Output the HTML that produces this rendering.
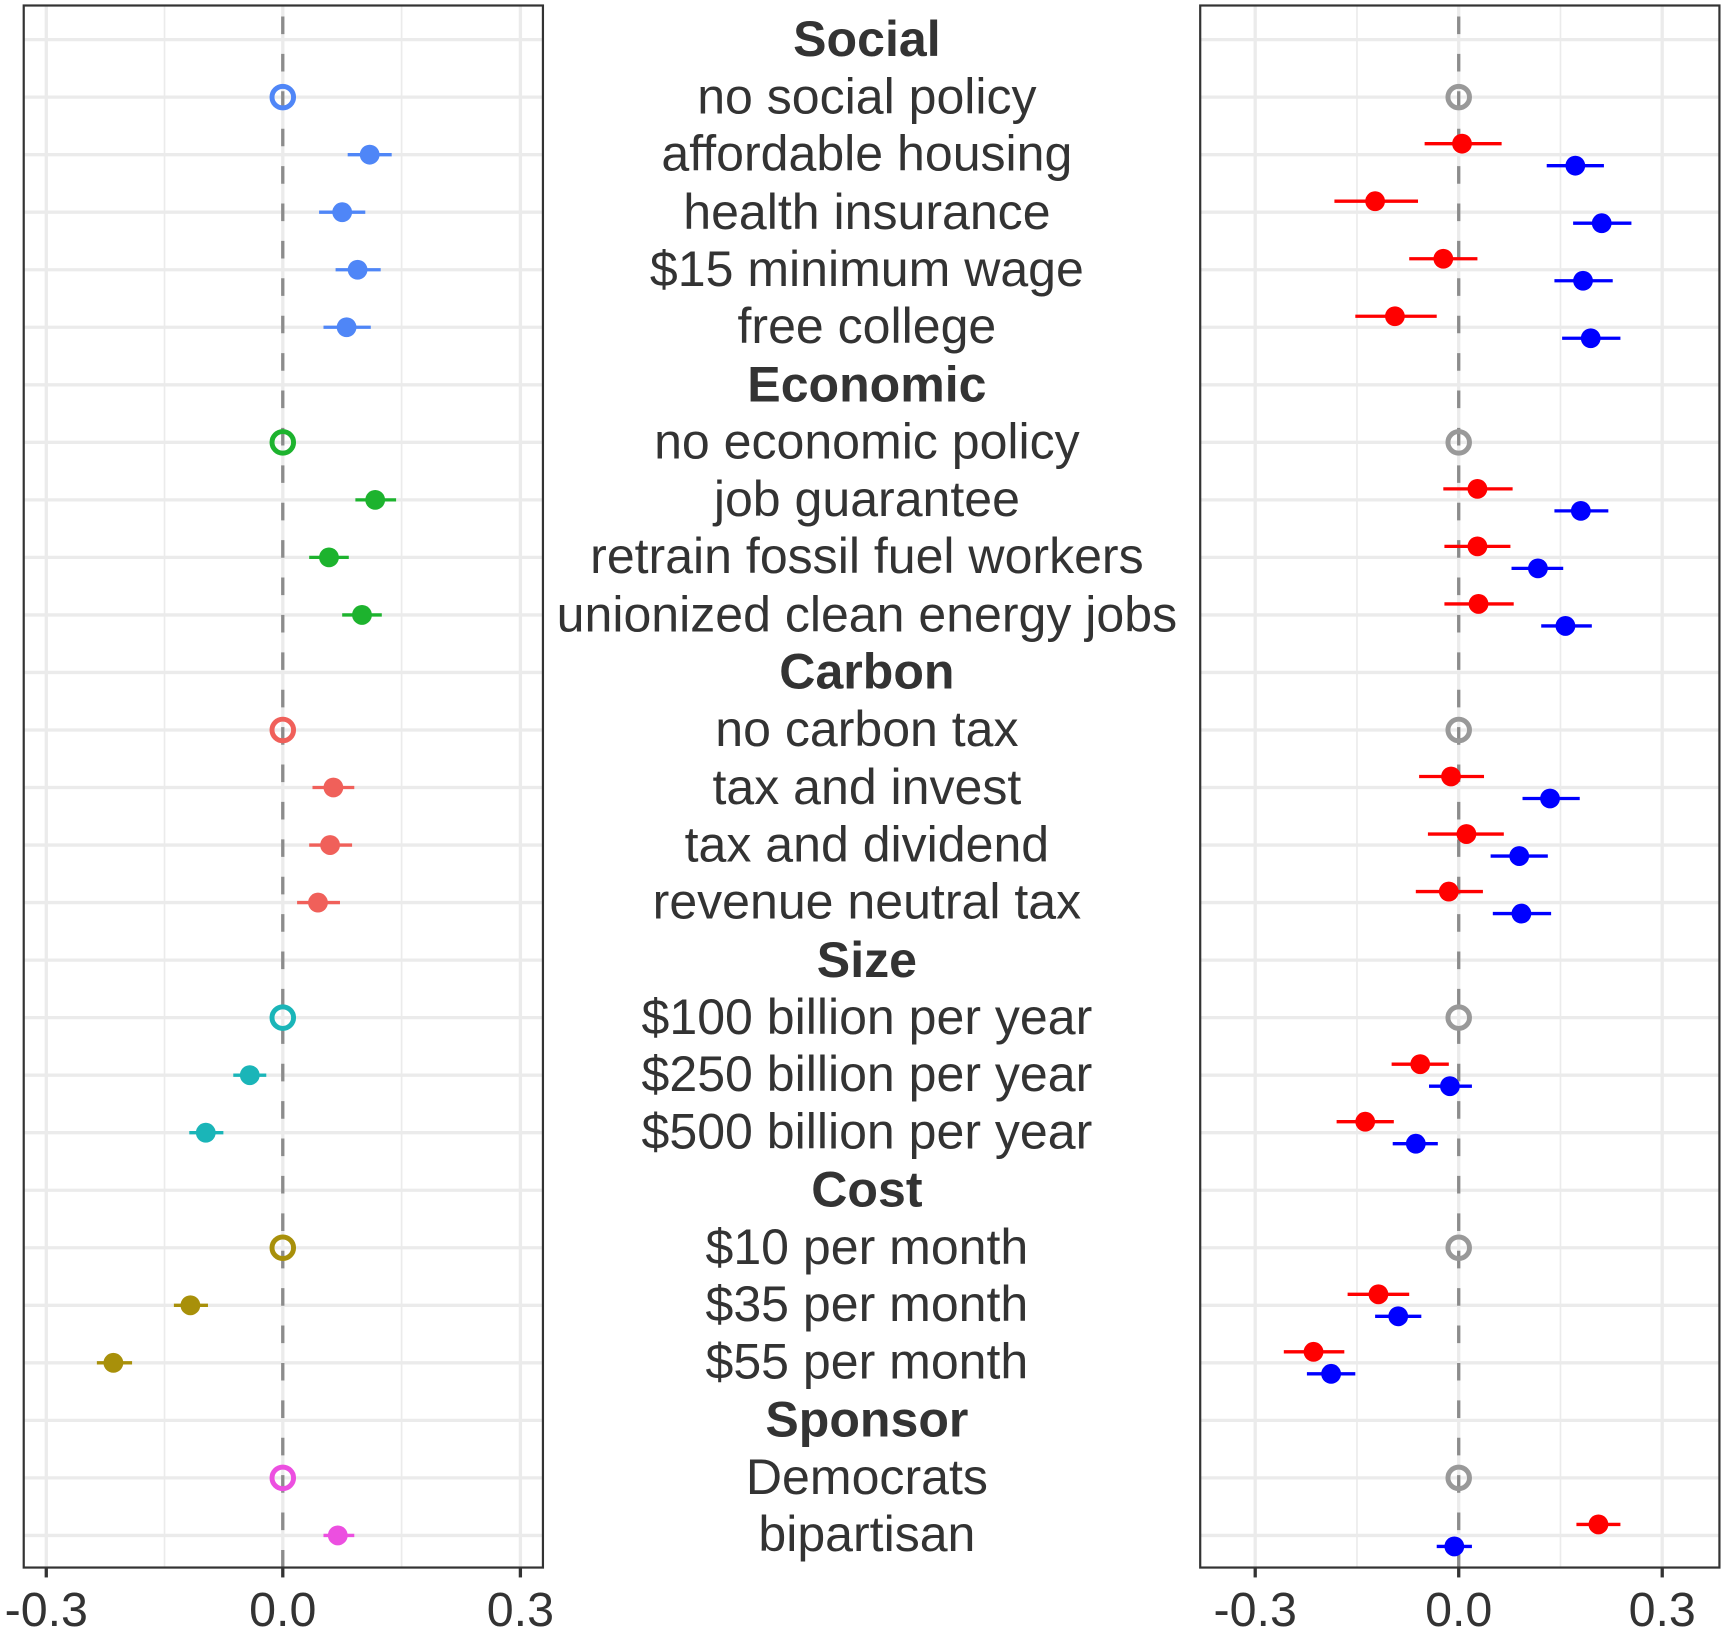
<!DOCTYPE html>
<html><head><meta charset="utf-8"><style>
html,body{margin:0;padding:0;background:#fff;}
svg{display:block;}
text{font-family:"Liberation Sans",Arial,sans-serif;fill:#333;}
</style></head><body>
<svg id="s" width="1725" height="1633" viewBox="0 0 1568 1484.5" xmlns="http://www.w3.org/2000/svg">
<rect width="1568" height="1484.5" fill="#fff"/>
<g id="g"></g>
<g text-anchor="middle" font-size="45.5">
<text x="788" y="51" font-weight="bold">Social</text>
<text x="788" y="103">no social policy</text>
<text x="788" y="155">affordable housing</text>
<text x="788" y="208">health insurance</text>
<text x="788" y="260">$15 minimum wage</text>
<text x="788" y="312">free college</text>
<text x="788" y="365" font-weight="bold">Economic</text>
<text x="788" y="417">no economic policy</text>
<text x="788" y="469">job guarantee</text>
<text x="788" y="521">retrain fossil fuel workers</text>
<text x="788" y="574">unionized clean energy jobs</text>
<text x="788" y="626" font-weight="bold">Carbon</text>
<text x="788" y="678">no carbon tax</text>
<text x="788" y="731">tax and invest</text>
<text x="788" y="783">tax and dividend</text>
<text x="788" y="835">revenue neutral tax</text>
<text x="788" y="888" font-weight="bold">Size</text>
<text x="788" y="940">$100 billion per year</text>
<text x="788" y="992">$250 billion per year</text>
<text x="788" y="1044">$500 billion per year</text>
<text x="788" y="1097" font-weight="bold">Cost</text>
<text x="788" y="1149">$10 per month</text>
<text x="788" y="1201">$35 per month</text>
<text x="788" y="1253">$55 per month</text>
<text x="788" y="1306" font-weight="bold">Sponsor</text>
<text x="788" y="1358">Democrats</text>
<text x="788" y="1410">bipartisan</text>
</g>
<g text-anchor="middle" font-size="44" fill="#4d4d4d">
<text x="42" y="1478">-0.3</text><text x="257" y="1478">0.0</text><text x="473" y="1478">0.3</text>
<text x="1141" y="1478">-0.3</text><text x="1326" y="1478">0.0</text><text x="1511" y="1478">0.3</text>
</g>
</svg>
<script>
var NS="http://www.w3.org/2000/svg",g=document.getElementById('g');
function el(t,a){var e=document.createElementNS(NS,t);for(var k in a)e.setAttribute(k,a[k]);g.appendChild(e);return e;}
function ry(i){return 36+i*52.3;}
function panel(x0,x1,z,m3,p3){
 for(var i=0;i<27;i++)el('line',{x1:x0,x2:x1,y1:ry(i),y2:ry(i),stroke:'#ebebeb','stroke-width':3});
 var mn=[(m3+z)/2,(z+p3)/2];mn.forEach(function(x){el('line',{x1:x,x2:x,y1:5,y2:1425,stroke:'#ebebeb','stroke-width':1.5});});
 [m3,z,p3].forEach(function(x){el('line',{x1:x,x2:x,y1:5,y2:1425,stroke:'#ebebeb','stroke-width':3});
  el('line',{x1:x,x2:x,y1:1425,y2:1434,stroke:'#333','stroke-width':3});});
 el('line',{x1:z,x2:z,y1:5,y2:1425,stroke:'#8c8c8c','stroke-width':3,'stroke-dasharray':'16 18','stroke-dashoffset':'-10'});
 el('rect',{x:x0,y:5,width:x1-x0,height:1420,fill:'none',stroke:'#333','stroke-width':2});
}
panel(21.5,493.5,257,42,473);
panel(1091,1563,1326,1141,1511);
function pt(x,y,a,b,c){el('line',{x1:a,x2:b,y1:y,y2:y,stroke:c,'stroke-width':3});el('circle',{cx:x,cy:y,r:9,fill:c});}
function op(x,y,c){el('circle',{cx:x,cy:y,r:9.8,fill:'none',stroke:c,'stroke-width':4.5});}
var L=[
[1,'o','#4F86F7'],[2,336,316,356,'#4F86F7'],[3,311,290,332,'#4F86F7'],[4,325,305,346,'#4F86F7'],[5,315,294,337,'#4F86F7'],
[7,'o','#1DB32E'],[8,341,323,360,'#1DB32E'],[9,299,281,317,'#1DB32E'],[10,329,311,347,'#1DB32E'],
[12,'o','#F0605A'],[13,303,284,322,'#F0605A'],[14,300,281,320,'#F0605A'],[15,289,270,309,'#F0605A'],
[17,'o','#1AB5B8'],[18,227,212,242,'#1AB5B8'],[19,187,172,203,'#1AB5B8'],
[21,'o','#A8900A'],[22,173,158,189,'#A8900A'],[23,103,88,120,'#A8900A'],
[25,'o','#EC4FE0'],[26,307,294,322,'#EC4FE0']];
L.forEach(function(d){if(d[1]=='o')op(257,ry(d[0]),d[2]);else pt(d[1],ry(d[0]),d[2],d[3],d[4]);});
[1,7,12,17,21,25].forEach(function(i){op(1326,ry(i),'#999');});
var R=[
[2,1329,1295,1365,1432,1406,1458],[3,1250,1213,1289,1456,1430,1483],[4,1312,1281,1343,1439,1413,1466],[5,1268,1232,1306,1446,1420,1473],
[8,1343,1312,1375,1437,1413,1462],[9,1343,1313,1373,1398,1374,1421],[10,1344,1313,1376,1423,1401,1447],
[13,1319,1290,1349,1409,1384,1436],[14,1333,1298,1367,1381,1355,1407],[15,1317,1287,1348,1383,1357,1410],
[18,1291,1265,1317,1318,1299,1338],[19,1241,1215,1267,1287,1266,1307],
[22,1253,1225,1281,1271,1250,1292],[23,1194,1167,1222,1210,1188,1232],[26,1453,1433,1473,1322,1306,1338]];
R.forEach(function(d){var y=ry(d[0]);pt(d[1],y-10,d[2],d[3],'#FF0000');pt(d[4],y+10,d[5],d[6],'#0000FF');});
</script>
</body></html>
